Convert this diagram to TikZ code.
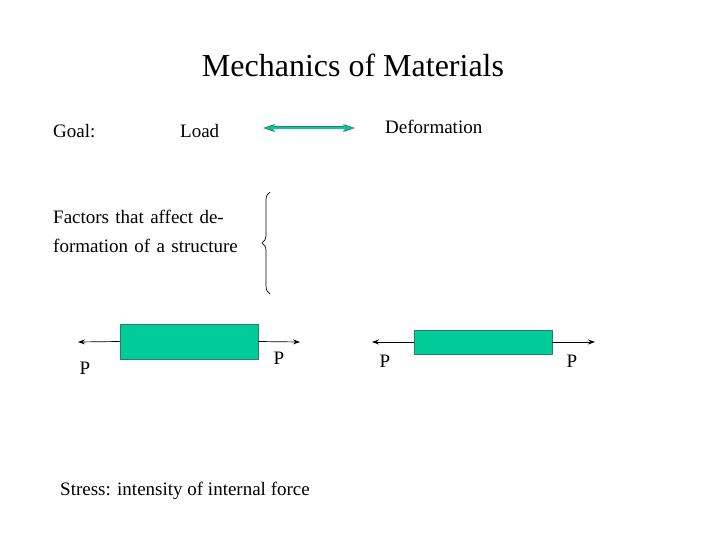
\documentclass[tikz,border=0pt]{standalone}
\usepackage{fontspec}
\setmainfont{Liberation Serif}
\usetikzlibrary{arrows.meta,decorations.pathreplacing}
\definecolor{bar}{HTML}{00CC99}
\definecolor{bard}{HTML}{2E7D6A}
\begin{document}
\begin{tikzpicture}[x=1pt,y=-1pt,
  txt/.style={anchor=west,inner sep=0pt,font=\fontsize{19}{23}\selectfont},
  ptxt/.style={inner sep=0pt,font=\fontsize{19}{23}\selectfont},
  barbox/.style={draw=bard,fill=bar,line width=0.8pt},
  force/.style={-{Stealth[length=7pt,width=5pt]},line width=0.7pt}]
\useasboundingbox (0,0) rectangle (720,540);
\node[inner sep=0pt,font=\fontsize{32}{38}\selectfont] (title) at (353,65) {Mechanics of Materials};
\node[txt] (goal) at (53,131) {Goal:};
\node[txt] (load) at (180,131) {Load};
\node[txt] (def) at (385,127) {Deformation};
\coordinate (da) at (263,128); \coordinate (db) at (355,128);
\draw[line width=3pt,bard,{Stealth[length=12pt,width=8pt]}-{Stealth[length=12pt,width=8pt]}] (da) -- (db);
\draw[line width=1.6pt,bar,shorten <=2pt,shorten >=2pt,{Stealth[length=10pt,width=5pt]}-{Stealth[length=10pt,width=5pt]}] (da) -- (db);
\node[txt,align=left,text width=190pt,font=\fontsize{19}{29}\selectfont] (fac) at (53,231) {Factors that affect deformation of a structure};
\coordinate (b1) at (270,192); \coordinate (b2) at (270,294);
\draw[line width=0.7pt,decorate,decoration={brace,amplitude=8pt}] (b2) -- (b1);
% bar 1
\node[barbox,minimum width=138pt,minimum height=35pt,inner sep=0pt] (bar1) at (189,341.5) {};
\coordinate (l1) at (78,342); \coordinate (r1) at (300,342);
\draw[force] (bar1.west) -- (l1);
\draw[force] (bar1.east) -- (r1);
\node[ptxt] (p1) at (85,368) {P};
\node[ptxt] (p2) at (279,358) {P};
% bar 2
\node[barbox,minimum width=138pt,minimum height=24pt,inner sep=0pt] (bar2) at (483,342) {};
\coordinate (l2) at (372,342); \coordinate (r2) at (595,342);
\draw[force] (bar2.west) -- (l2);
\draw[force] (bar2.east) -- (r2);
\node[ptxt] (p3) at (385,361) {P};
\node[ptxt] (p4) at (572,361) {P};
\node[txt] (stress) at (60,491) {Stress: intensity of internal force};
\end{tikzpicture}
\end{document}
